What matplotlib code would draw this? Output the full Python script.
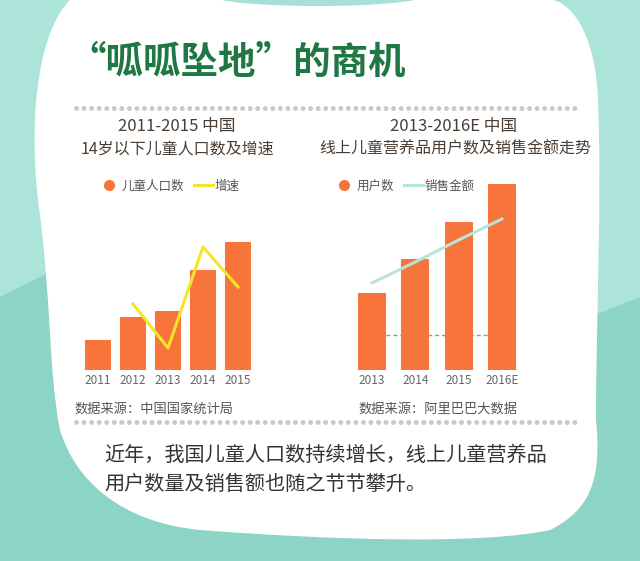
import matplotlib
matplotlib.use("Agg")
from matplotlib import pyplot as plt
from matplotlib.path import Path
from matplotlib.patches import PathPatch, Ellipse, Polygon
from matplotlib.lines import Line2D

plt.rcParams['font.family'] = ['Noto Sans CJK SC', 'DejaVu Sans']

# left chart: children under 14 (bar heights) and growth line
years_left = ['2011', '2012', '2013', '2014', '2015']
child_pop = [29, 52, 58, 99, 127]
growth_years = [1, 2, 3, 4]
growth = [66, 22, 123, 83]

# right chart: online nutrition users and sales
years_right = ['2013', '2014', '2015', '2016E']
users = [76, 110, 147, 185]
sales = [87, 108, 130, 151]
ref_line = [35, 35, 35, 35]

ORANGE = '#f7743a'
YELLOW = '#f4e42a'
TEAL_LINE = '#b8e4da'
GREEN = '#1f7844'
BROWN = '#4a3d33'
GRAY = '#666666'

W, H = 640, 561
fig = plt.figure(figsize=(W / 100, H / 100), dpi=100)
fig.patch.set_facecolor('#8bd4c6')

bg = fig.add_axes([0, 0, 1, 1])
bg.set_xlim(0, W)
bg.set_ylim(H, 0)
bg.axis('off')

# lighter upper band of the background
bg.add_patch(Polygon([(0, 0), (W, 0), (W, 297), (600, 313), (50, 272), (0, 297)], closed=True,
                     facecolor='#ace4da', edgecolor='none', zorder=0))

# white card
verts = [(70, 0), (553, 0),
         (575, 5), (596, 40), (598, 100),
         (602, 200), (596, 320), (596, 420),
         (602, 480), (590, 510), (550, 530),
         (480, 545), (330, 540), (200, 530),
         (120, 522), (75, 480), (60, 430),
         (48, 370), (52, 300), (38, 200),
         (28, 110), (40, 30), (70, 0)]
codes = [Path.MOVETO, Path.LINETO] + [Path.CURVE4] * 21
bg.add_patch(PathPatch(Path(verts, codes), facecolor='white', edgecolor='none', zorder=1))
bg.add_patch(Ellipse((318, -4), 210, 20, facecolor='#a6e0d6', edgecolor='none', zorder=2))

# title
bg.text(68, 62, '“呱呱坠地”的商机', fontsize=27, fontweight='bold', color=GREEN,
        va='center', ha='left', zorder=3)

# dotted separators
for yy in (108, 422):
    bg.plot([76, 578], [yy, yy], color='#c9c9c9', lw=3.6, linestyle=(0, (0.01, 1.5)),
            dash_capstyle='round', zorder=3)

# chart titles
bg.text(177, 126, '2011-2015 中国', fontsize=12, color=BROWN, ha='center', va='center', zorder=3)
bg.text(177, 149, '14岁以下儿童人口数及增速', fontsize=11.5, color=BROWN, ha='center', va='center', zorder=3)
bg.text(454, 126, '2013-2016E 中国', fontsize=12, color=BROWN, ha='center', va='center', zorder=3)
bg.text(455, 149, '线上儿童营养品用户数及销售金额走势', fontsize=11.5, color=BROWN, ha='center', va='center', zorder=3)

# sources
bg.text(74, 409, '数据来源：中国国家统计局', fontsize=9.5, color='#555555', ha='left', va='center', zorder=3)
bg.text(358, 409, '数据来源：阿里巴巴大数据', fontsize=9.5, color='#555555', ha='left', va='center', zorder=3)

# body text
bg.text(104, 455, '近年，我国儿童人口数持续增长，线上儿童营养品', fontsize=14.5, color='#333333',
        ha='left', va='center', zorder=3)
bg.text(104, 484, '用户数量及销售额也随之节节攀升。', fontsize=14.5, color='#333333',
        ha='left', va='center', zorder=3)


def px_axes(left, top, right, bottom):
    a = fig.add_axes([left / W, 1 - bottom / H, (right - left) / W, (bottom - top) / H])
    a.patch.set_alpha(0)
    for s in a.spines.values():
        s.set_visible(False)
    a.set_yticks([])
    a.tick_params(axis='x', length=0, pad=3, labelsize=8.5, labelcolor=GRAY)
    a.set_ylim(0, 195)
    return a


ax1 = px_axes(80.5, 175, 255.5, 370)
ax1.bar(range(len(years_left)), child_pop, width=0.71, color=ORANGE,
        edgecolor=ORANGE, linewidth=1.5, joinstyle='round', zorder=2)
ax1.plot(growth_years, growth, color=YELLOW, lw=2.2, zorder=3)
ax1.set_xlim(-0.5, 4.5)
ax1.set_xticks(range(len(years_left)))
ax1.set_xticklabels(years_left)

ax2 = px_axes(350.3, 175, 523.6, 370)
ax2.plot(range(len(years_right)), ref_line, color='#999999', lw=1, linestyle=(0, (3, 2)), zorder=1)
ax2.bar(range(len(years_right)), users, width=0.6, color=ORANGE,
        edgecolor=ORANGE, linewidth=1.5, joinstyle='round', zorder=2)
ax2.plot(range(len(years_right)), sales, color=TEAL_LINE, lw=2.2, zorder=3)
ax2.set_xlim(-0.5, 3.5)
ax2.set_xticks(range(len(years_right)))
ax2.set_xticklabels(years_right)

# legends
h_bar = Line2D([], [], marker='o', color='none', markerfacecolor=ORANGE,
               markeredgecolor=ORANGE, markersize=7)
h_yel = Line2D([], [], color=YELLOW, lw=2.2)
h_teal = Line2D([], [], color=TEAL_LINE, lw=2.2)
lg_kw = dict(ncol=2, frameon=False, fontsize=9, labelcolor='#555555', handlelength=1.5,
             handletextpad=0.2, columnspacing=0.8, loc='center')
fig.legend([h_bar, h_yel], ['儿童人口数', '增速'], bbox_to_anchor=(170 / W, 1 - 186 / H), **lg_kw)
fig.legend([h_bar, h_teal], ['用户数', '销售金额'], bbox_to_anchor=(405 / W, 1 - 186 / H), **lg_kw)

fig.savefig('out.png', dpi=100)
